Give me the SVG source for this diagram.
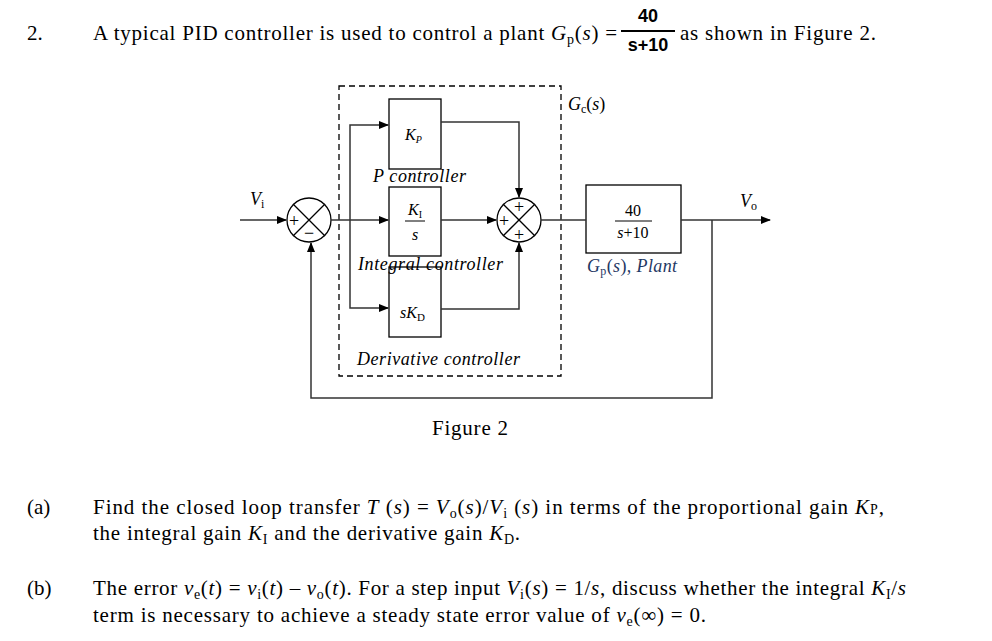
<svg xmlns="http://www.w3.org/2000/svg" width="992" height="641" viewBox="0 0 992 641">
<style>
text{font-family:"Liberation Serif",serif;font-size:21px;fill:#000}
.s{font-size:16px}
.m{font-size:18px}
.i{font-style:italic}
.b{fill:#fff;stroke:#000;stroke-width:1.3}
.l{fill:none;stroke:#333;stroke-width:1.5}
</style>
<defs><marker id="a" markerWidth="10" markerHeight="8" refX="9" refY="4" orient="auto" markerUnits="userSpaceOnUse"><path d="M0,0L10,4L0,8z" fill="#000"/></marker></defs>
<rect width="992" height="641" fill="#fff"/>
<text x="27" y="40">2.</text>
<text x="93" y="40" textLength="524" lengthAdjust="spacing">A typical PID controller is used to control a plant <tspan class="i">G</tspan><tspan font-size="14" dy="4">p</tspan><tspan dy="-4">(</tspan><tspan class="i">s</tspan>) =</text>
<text x="648" y="22" text-anchor="middle" style="font-family:'Liberation Sans',sans-serif;font-size:18px;font-weight:bold">40</text>
<line x1="621" y1="31" x2="675" y2="31" stroke="#000" stroke-width="2"/>
<text x="648" y="51" text-anchor="middle" style="font-family:'Liberation Sans',sans-serif;font-size:18px;font-weight:bold">s+10</text>
<text x="680" y="40" textLength="196" lengthAdjust="spacing">as shown in Figure 2.</text>
<rect x="339" y="86" width="222" height="290" fill="none" stroke="#000" stroke-width="1.3" stroke-dasharray="6,4"/>
<g id="sum1"><circle cx="309" cy="220" r="22" class="b"/><path d="M293,204L325,236M325,204L293,236" stroke="#000" stroke-width="1.3"/><text x="289" y="227" class="m">+</text><text x="304" y="239" class="m">−</text></g>
<g id="kp"><rect x="389" y="99" width="52" height="70" class="b"/><text x="405" y="140" class="s i">K<tspan font-size="10" dy="3">P</tspan></text></g>
<g id="ki"><rect x="389" y="187" width="52" height="69" class="b"/><text x="415" y="215" class="s" text-anchor="middle"><tspan class="i">K</tspan><tspan font-size="10" dy="3">I</tspan></text><line x1="405" y1="221" x2="425" y2="221" stroke="#000"/><text x="415" y="240" class="s i" text-anchor="middle">s</text></g>
<g id="kd"><rect x="389" y="267" width="52" height="70" class="b"/><text x="400" y="318" class="s i">sK<tspan font-size="11" dy="3" font-style="normal">D</tspan></text></g>
<g id="sum2"><circle cx="519" cy="220" r="22" class="b"/><path d="M503,204L535,236M535,204L503,236" stroke="#000" stroke-width="1.3"/><text x="514" y="213" class="m">+</text><text x="499" y="227" class="m">+</text><text x="514" y="241" class="m">+</text></g>
<g id="plant"><rect x="586" y="185" width="95" height="68" class="b"/><text x="633" y="216" class="s" text-anchor="middle">40</text><line x1="615" y1="221" x2="652" y2="221" stroke="#000"/><text x="633" y="238" class="s" text-anchor="middle"><tspan class="i">s</tspan>+10</text></g>
<g id="connectors">
<path class="l" d="M240,220H286" marker-end="url(#a)"/>
<path class="l" d="M331,220H388" marker-end="url(#a)"/>
<path class="l" d="M350,220V125H388" marker-end="url(#a)"/>
<path class="l" d="M350,220V308H388" marker-end="url(#a)"/>
<path class="l" d="M441,220H496" marker-end="url(#a)"/>
<path class="l" d="M441,122H519V197" marker-end="url(#a)"/>
<path class="l" d="M441,309H519V243" marker-end="url(#a)"/>
<path class="l" d="M541,220H586"/>
<path class="l" d="M681,220H770" marker-end="url(#a)"/>
<path class="l" d="M712,220V398H311V243" marker-end="url(#a)"/>
</g>
<text x="250" y="205" class="m i">V<tspan font-size="12" dy="3" font-style="normal">i</tspan></text>
<text x="740" y="207" class="m i">V<tspan font-size="12" dy="3" font-style="normal">o</tspan></text>
<text x="568" y="110" class="m i">G<tspan font-size="12" dy="3" font-style="normal">c</tspan><tspan dy="-3" font-style="normal">(</tspan>s<tspan font-style="normal">)</tspan></text>
<text x="373" y="182" class="m i" textLength="93" lengthAdjust="spacing">P controller</text>
<text x="358" y="270" class="m i" textLength="145" lengthAdjust="spacing">Integral controller</text>
<text x="357" y="365" class="m i" textLength="163" lengthAdjust="spacing">Derivative controller</text>
<text x="587" y="272" class="m i" style="fill:#1f3864" textLength="90" lengthAdjust="spacing">G<tspan font-size="12" dy="3" font-style="normal">p</tspan><tspan dy="-3" font-style="normal">(</tspan>s<tspan font-style="normal">), </tspan>Plant</text>
<text x="432" y="435" textLength="76" lengthAdjust="spacing">Figure 2</text>
<text x="27" y="514">(a)</text>
<text x="93" y="514" textLength="791" lengthAdjust="spacing">Find the closed loop transfer <tspan class="i">T</tspan> (<tspan class="i">s</tspan>) = <tspan class="i">V</tspan><tspan font-size="14" dy="4">o</tspan><tspan dy="-4">(</tspan><tspan class="i">s</tspan>)/<tspan class="i">V</tspan><tspan font-size="14" dy="4">i</tspan><tspan dy="-4"> (</tspan><tspan class="i">s</tspan>) in terms of the proportional gain <tspan class="i">K</tspan><tspan font-size="14">P</tspan>,</text>
<text x="93" y="540" textLength="427" lengthAdjust="spacing">the integral gain <tspan class="i">K</tspan><tspan font-size="14" dy="4">I</tspan><tspan dy="-4"> and the derivative gain </tspan><tspan class="i">K</tspan><tspan font-size="14" dy="4">D</tspan><tspan dy="-4">.</tspan></text>
<text x="27" y="595">(b)</text>
<text x="93" y="595" textLength="813" lengthAdjust="spacing">The error <tspan class="i">v</tspan><tspan font-size="14" dy="4">e</tspan><tspan dy="-4">(</tspan><tspan class="i">t</tspan>) = <tspan class="i">v</tspan><tspan font-size="14" dy="4">i</tspan><tspan dy="-4">(</tspan><tspan class="i">t</tspan>) – <tspan class="i">v</tspan><tspan font-size="14" dy="4">o</tspan><tspan dy="-4">(</tspan><tspan class="i">t</tspan>). For a step input <tspan class="i">V</tspan><tspan font-size="14" dy="4">i</tspan><tspan dy="-4">(</tspan><tspan class="i">s</tspan>) = 1/<tspan class="i">s</tspan>, discuss whether the integral <tspan class="i">K</tspan><tspan font-size="14" dy="4">I</tspan><tspan dy="-4">/</tspan><tspan class="i">s</tspan></text>
<text x="93" y="622" textLength="613" lengthAdjust="spacing">term is necessary to achieve a steady state error value of <tspan class="i">v</tspan><tspan font-size="14" dy="4">e</tspan><tspan dy="-4">(∞) = 0.</tspan></text>
</svg>
